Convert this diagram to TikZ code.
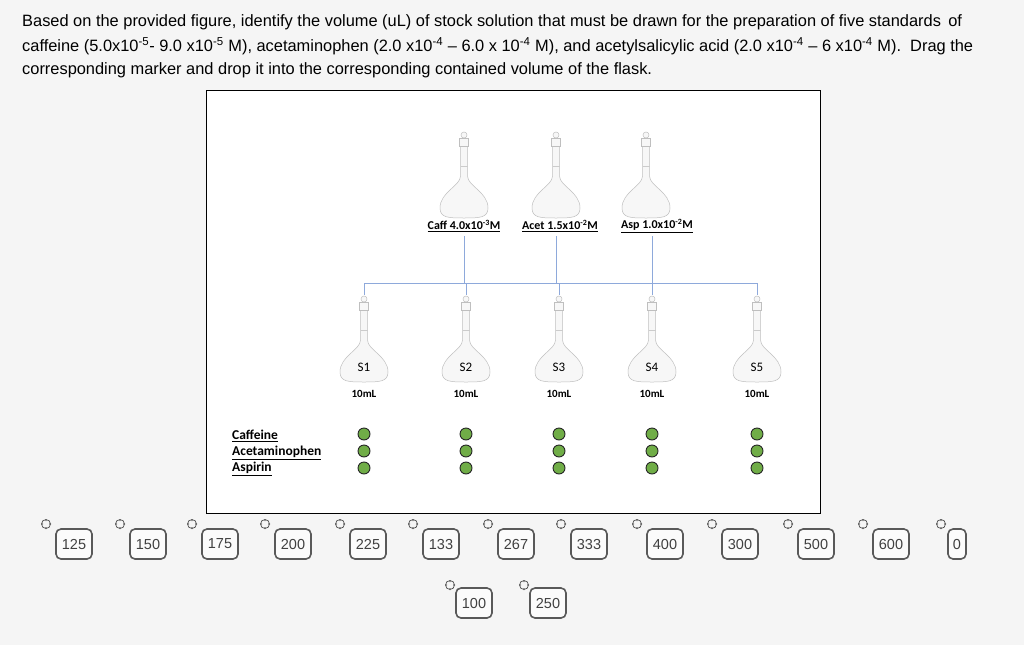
\documentclass[tikz,border=0pt]{standalone}
\usepackage{fontspec}
\setmainfont{Liberation Sans}
\newfontfamily\carl{Carlito}
\definecolor{dotg}{HTML}{70AD47}
\definecolor{linkb}{HTML}{8EA9DB}
\begin{document}
\begin{tikzpicture}[x=1pt,y=-1pt,
  qtext/.style={anchor=west,inner sep=0,font=\fontsize{16.4}{19}\selectfont},
  marker/.style={draw=black!65,line width=1.6pt,rounded corners=5pt,fill=gray!3,minimum width=36pt,minimum height=30pt,inner sep=0,font=\fontsize{14.5}{16}\selectfont,text=black!75},
  dot/.style={circle,draw=black!85,line width=0.9pt,fill=dotg,minimum size=12pt,inner sep=0},
  flab/.style={font=\carl\bfseries\fontsize{12}{14}\selectfont,inner sep=1pt},
  glass/.style={draw=black!25,fill=gray!6,line width=0.5pt},
  flask/.pic={
    \path[glass] (-3.5,-72) -- (-3.5,-42) .. controls (-3.5,-32) and (-24,-26) .. (-24,-10) .. controls (-24,0) and (-15,0) .. (0,0) .. controls (15,0) and (24,0) .. (24,-10) .. controls (24,-26) and (3.5,-32) .. (3.5,-42) -- (3.5,-72) -- cycle;
    \path[glass] (-4.5,-80) rectangle (4.5,-72);
    \path[glass] (0,-83) circle (3);
    \draw[black!20] (-3.5,-52) -- (3.5,-52);
  }]
\fill[gray!8] (0,0) rectangle (1024,645);
\useasboundingbox (0,0) rectangle (1024,645);
\node[qtext] (q1) at (22,22) {Based on the provided figure, identify the volume (uL) of stock solution that must be drawn for the preparation of five standards\, of};
\node[qtext] (q2) at (22,46) {caffeine (5.0x10\textsuperscript{-5}- 9.0 x10\textsuperscript{-5} M), acetaminophen (2.0 x10\textsuperscript{-4} – 6.0 x 10\textsuperscript{-4} M), and acetylsalicylic acid (2.0 x10\textsuperscript{-4} – 6 x10\textsuperscript{-4} M).\ \ Drag the};
\node[qtext] (q3) at (22,70) {corresponding marker and drop it into the corresponding contained volume of the flask.};
\draw[fill=white,line width=0.7pt] (206,90) rectangle (820,513);
% top flasks
\foreach \x/\n in {464/t1,556/t2,646/t3}{ \pic at (\x,218) {flask}; }
\node[flab] (c1) at (464,226) {\underline{Caff 4.0x10\textsuperscript{-3}M}};
\node[flab] (c2) at (560,226) {\underline{Acet 1.5x10\textsuperscript{-2}M}};
\node[flab] (c3) at (657,226) {\underline{Asp 1.0x10\textsuperscript{-2}M}};
\coordinate (h1) at (464,283); \coordinate (h2) at (556,283); \coordinate (h3) at (652,283);
\draw[linkb,line width=0.7pt] (464,236) -- (h1) (556,236) -- (h2) (652,236) -- (h3) (364,283) -- (757,283);
\foreach \x/\s in {364/1,466/2,559/3,652/4,757/5}{
  \draw[linkb,line width=0.7pt] (\x,283) -- (\x,295);
  \pic at (\x,382) {flask};
  \node[font=\carl\fontsize{13}{15}\selectfont] (s\s) at (\x,367) {S\s};
  \node[flab,font=\carl\bfseries\fontsize{11}{13}\selectfont] (v\s) at (\x,394) {10mL};
  \foreach \y/\k in {434/a,451/b,468/c} \node[dot] (d\s\k) at (\x,\y) {};
}
\node[flab,anchor=west,font=\carl\bfseries\fontsize{13.5}{15}\selectfont] (l1) at (231,436) {\underline{Caffeine}};
\node[flab,anchor=west,font=\carl\bfseries\fontsize{13.5}{15}\selectfont] (l2) at (231,453) {\underline{Acetaminophen}};
\node[flab,anchor=west,font=\carl\bfseries\fontsize{13.5}{15}\selectfont] (l3) at (231,469) {\underline{Aspirin}};
% markers
\foreach \x/\t in {74/125,148/150,220/175,293/200,368/225,441/133,516/267,589/333,665/400,740/300,816/500,891/600}{
  \node[marker] (m\t) at (\x,544) {\t};
  \draw[black!70,line width=0.7pt] (\x-28,524) circle (4.5) (\x-33,524)--(\x-31,524) (\x-25,524)--(\x-23,524) (\x-28,519)--(\x-28,521) (\x-28,527)--(\x-28,529);
}
\node[marker,minimum width=18pt] (m0) at (957,544) {0};
\draw[black!70,line width=0.7pt] (941,524) circle (4.5) (936,524)--(938,524) (944,524)--(946,524) (941,519)--(941,521) (941,527)--(941,529);
\foreach \x/\t in {474/100,548/250}{
  \node[marker] (n\t) at (\x,603) {\t};
  \draw[black!70,line width=0.7pt] (\x-24,585) circle (4.5) (\x-29,585)--(\x-27,585) (\x-21,585)--(\x-19,585) (\x-24,580)--(\x-24,582) (\x-24,588)--(\x-24,590);
}
\end{tikzpicture}
\end{document}
